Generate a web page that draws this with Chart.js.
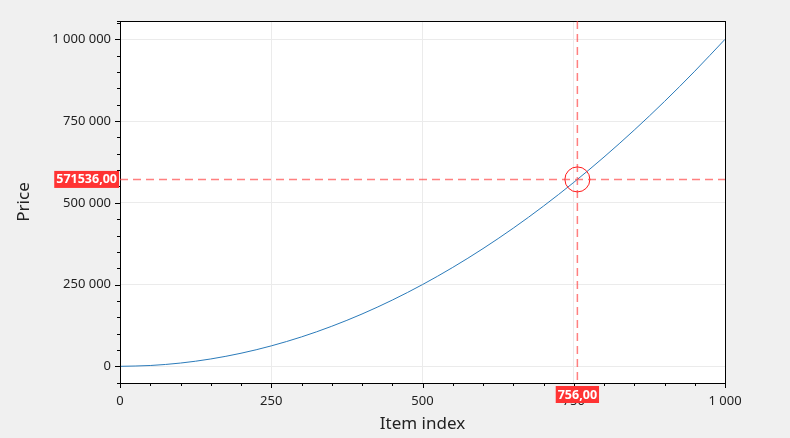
<!DOCTYPE html>
<html>
<head>
<meta charset="utf-8">
<script src="https://cdn.jsdelivr.net/npm/chart.js@4/dist/chart.umd.min.js"></script>
<style>
  html, body { margin: 0; padding: 0; background: #f0f0f0; }
  #wrap { width: 790px; height: 438px; }
</style>
</head>
<body>
<div id="wrap"><canvas id="priceChart" width="790" height="438"></canvas></div>
<script>
// Item index / price pairs
const itemIndex = [0, 50, 100, 150, 200, 250, 300, 350, 400, 450, 500,
                   550, 600, 650, 700, 750, 800, 850, 900, 950, 1000];
const priceValues = [0, 2500, 10000, 22500, 40000, 62500, 90000, 122500, 160000, 202500, 250000,
                     302500, 360000, 422500, 490000, 562500, 640000, 722500, 810000, 902500, 1000000];

// Tick labels shown on the axes
const xTickLabels = [0, 250, 500, 750, 1000];
const yTickLabels = [0, 250000, 500000, 750000, 1000000];

// Cursor position marked by the crosshair
const cursorX = 756;
const cursorY = 571536;

const fontFamily = '"Noto Sans", "Open Sans", sans-serif';

function spaced(v) {
    return String(v).replace(/\B(?=(\d{3})+(?!\d))/g, ' ');
}

// minor ticks every step between lo and hi
function stepTicks(lo, hi, step) {
    const out = [];
    for (let v = lo; v <= hi; v += step) out.push({ value: v });
    return out;
}

// white plot background + frame, minor/major tick marks, crosshair
const plotDecor = {
    id: 'plotDecor',
    beforeDraw(chart) {
        const { ctx, chartArea: a } = chart;
        ctx.save();
        ctx.fillStyle = '#ffffff';
        ctx.fillRect(a.left, a.top, a.right - a.left, a.bottom - a.top);
        ctx.restore();
    },
    afterDraw(chart) {
        const { ctx, chartArea: a, scales } = chart;
        const xs = scales.x, ys = scales.y;
        ctx.save();

        // frame
        ctx.strokeStyle = '#000000';
        ctx.lineWidth = 1;
        ctx.strokeRect(Math.round(a.left) + 0.5, Math.round(a.top) + 0.5,
            Math.round(a.right - a.left), Math.round(a.bottom - a.top));

        // tick marks
        ctx.beginPath();
        ys.ticks.forEach(t => {
            const y = Math.round(ys.getPixelForValue(t.value)) + 0.5;
            const len = yTickLabels.includes(t.value) ? 5 : 3;
            ctx.moveTo(a.left - len, y);
            ctx.lineTo(a.left, y);
        });
        ctx.moveTo(a.left - 3, Math.round(a.top) + 0.5);
        ctx.lineTo(a.left, Math.round(a.top) + 0.5);
        xs.ticks.forEach(t => {
            const x = Math.round(xs.getPixelForValue(t.value)) + 0.5;
            const len = xTickLabels.includes(t.value) ? 5 : 3;
            ctx.moveTo(x, a.bottom);
            ctx.lineTo(x, a.bottom + len);
        });
        ctx.stroke();

        // crosshair
        const cx = xs.getPixelForValue(cursorX);
        const cy = ys.getPixelForValue(cursorY);
        ctx.strokeStyle = 'rgba(255, 60, 60, 0.65)';
        ctx.lineWidth = 1.5;
        ctx.setLineDash([8, 5]);
        ctx.beginPath();
        ctx.moveTo(a.left, cy);
        ctx.lineTo(a.right, cy);
        ctx.moveTo(cx, a.top);
        ctx.lineTo(cx, a.bottom);
        ctx.stroke();
        ctx.setLineDash([]);

        ctx.strokeStyle = '#ff1a1a';
        ctx.lineWidth = 1;
        ctx.beginPath();
        ctx.arc(cx, cy, 12.5, 0, Math.PI * 2);
        ctx.stroke();

        // value tags
        ctx.font = 'bold 12.5px ' + fontFamily;
        ctx.textBaseline = 'middle';
        const yTag = cursorY.toFixed(2).replace('.', ',');
        const yw = ctx.measureText(yTag).width + 4;
        ctx.fillStyle = '#ff3333';
        ctx.fillRect(a.left - 1 - yw, cy - 8.5, yw, 17);
        ctx.fillStyle = '#ffffff';
        ctx.textAlign = 'center';
        ctx.fillText(yTag, a.left - 1 - yw / 2, cy + 0.5);

        const xTag = cursorX.toFixed(2).replace('.', ',');
        const xw = ctx.measureText(xTag).width + 4;
        ctx.fillStyle = '#ff3333';
        ctx.fillRect(cx - xw / 2, a.bottom + 3, xw, 17);
        ctx.fillStyle = '#ffffff';
        ctx.fillText(xTag, cx, a.bottom + 12);

        ctx.restore();
    }
};

const ctx = document.getElementById('priceChart').getContext('2d');
const priceChart = new Chart(ctx, {
    type: 'line',
    data: {
        labels: itemIndex,
        datasets: [{
            data: itemIndex.map((x, i) => ({ x: x, y: priceValues[i] })),
            borderColor: '#2b7bba',
            borderWidth: 1,
            pointRadius: 0,
            fill: false,
            cubicInterpolationMode: 'monotone'
        }]
    },
    options: {
        responsive: false,
        animation: false,
        layout: { padding: { left: 14, top: 21, right: 65, bottom: 4 } },
        plugins: {
            legend: { display: false },
            tooltip: { enabled: false }
        },
        scales: {
            x: {
                type: 'linear',
                min: 0,
                max: 1000,
                afterFit(scale) { scale.height = 51; },
                afterBuildTicks(scale) { scale.ticks = stepTicks(0, 1000, 50); },
                ticks: {
                    autoSkip: false,
                    maxRotation: 0,
                    padding: 10,
                    color: '#222222',
                    font: { family: fontFamily, size: 13 },
                    callback: v => xTickLabels.includes(v) ? spaced(v) : ''
                },
                grid: {
                    drawTicks: false,
                    color: c => xTickLabels.includes(c.tick.value) ? '#ebebeb' : 'rgba(0,0,0,0)'
                },
                border: { display: false },
                title: {
                    display: true,
                    text: 'Item index',
                    color: '#222222',
                    font: { family: fontFamily, size: 17 },
                    padding: { top: 4, bottom: 0 }
                }
            },
            y: {
                type: 'linear',
                min: -51000,
                max: 1056000,
                afterFit(scale) { scale.width = 106; },
                afterBuildTicks(scale) { scale.ticks = stepTicks(-50000, 1050000, 50000); },
                ticks: {
                    autoSkip: false,
                    padding: 9,
                    color: '#222222',
                    font: { family: fontFamily, size: 13 },
                    callback: v => yTickLabels.includes(v) ? spaced(v) : ''
                },
                grid: {
                    drawTicks: false,
                    color: c => yTickLabels.includes(c.tick.value) ? '#ebebeb' : 'rgba(0,0,0,0)'
                },
                border: { display: false },
                title: {
                    display: true,
                    text: 'Price',
                    color: '#222222',
                    font: { family: fontFamily, size: 17 },
                    padding: { top: 0, bottom: 0 }
                }
            }
        }
    },
    plugins: [plotDecor]
});
</script>
</body>
</html>
